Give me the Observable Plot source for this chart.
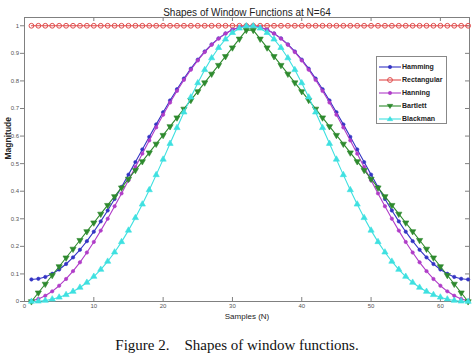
<!DOCTYPE html>
<html>
<head>
<meta charset="utf-8">
<script src="https://cdn.jsdelivr.net/npm/d3@7"></script>
<script src="https://cdn.jsdelivr.net/npm/@observablehq/plot@0.6"></script>
<style>
  html, body { margin: 0; padding: 0; background: #fff; }
  #wrap { position: relative; width: 474px; height: 356px; overflow: hidden; }
  #caption { position: absolute; left: 0; top: 338px; width: 474px; text-align: center;
    font-family: "Liberation Serif", "Times New Roman", serif; font-size: 15px; line-height: 15px; color: #111; white-space: pre; }
  #legend { position: absolute; left: 376px; top: 56px; width: 71px; height: 68px; border: 1px solid #888; background: #fff;
    font-family: "Liberation Sans", Arial, sans-serif; font-size: 7px; font-weight: bold; color: #222; box-sizing: border-box; }
  .row { position: absolute; left: 2px; height: 13px; display: flex; align-items: center; }
  .row svg { display: block; }
  .row span { margin-left: 1px; }
</style>
</head>
<body>
<div id="wrap"></div>
<script>
const title = "Shapes of Window Functions at N=64";
const xLabel = "Samples (N)";
const yLabel = "Magnitude";
const caption = "Figure 2.    Shapes of window functions.";
const xTicks = [0, 10, 20, 30, 40, 50, 60];
const yTicks = [0, 0.1, 0.2, 0.3, 0.4, 0.5, 0.6, 0.7, 0.8, 0.9, 1];
const seriesNames = ["Hamming", "Rectangular", "Hanning", "Bartlett", "Blackman"];
const seriesColors = ["#3434c4", "#e04a4a", "#b03cc8", "#2e8a2e", "#3ee0e0"];

const samples = [1,2,3,4,5,6,7,8,9,10,11,12,13,14,15,16,17,18,19,20,21,22,23,24,25,26,27,28,29,30,31,32,
  33,34,35,36,37,38,39,40,41,42,43,44,45,46,47,48,49,50,51,52,53,54,55,56,57,58,59,60,61,62,63,64];

const hamming = [0.0800,0.0823,0.0891,0.1004,0.1161,0.1360,0.1599,0.1876,0.2188,0.2532,0.2905,0.3301,0.3719,0.4154,0.4601,0.5056,
  0.5515,0.5972,0.6424,0.6865,0.7292,0.7700,0.8085,0.8444,0.8772,0.9067,0.9325,0.9544,0.9723,0.9858,0.9949,0.9994,
  0.9994,0.9949,0.9858,0.9723,0.9544,0.9325,0.9067,0.8772,0.8444,0.8085,0.7700,0.7292,0.6865,0.6424,0.5972,0.5515,
  0.5056,0.4601,0.4154,0.3719,0.3301,0.2905,0.2532,0.2188,0.1876,0.1599,0.1360,0.1161,0.1004,0.0891,0.0823,0.0800];

const rectangular = [1,1,1,1,1,1,1,1,1,1,1,1,1,1,1,1,1,1,1,1,1,1,1,1,1,1,1,1,1,1,1,1,
  1,1,1,1,1,1,1,1,1,1,1,1,1,1,1,1,1,1,1,1,1,1,1,1,1,1,1,1,1,1,1,1];

const hanning = [0.0023,0.0093,0.0209,0.0369,0.0573,0.0817,0.1101,0.1421,0.1776,0.2160,0.2571,0.3003,0.3455,0.3921,0.4397,0.4879,
  0.5362,0.5842,0.6314,0.6773,0.7216,0.7638,0.8036,0.8406,0.8743,0.9045,0.9310,0.9535,0.9717,0.9855,0.9948,0.9994,
  0.9994,0.9948,0.9855,0.9717,0.9535,0.9310,0.9045,0.8743,0.8406,0.8036,0.7638,0.7216,0.6773,0.6314,0.5842,0.5362,
  0.4879,0.4397,0.3921,0.3455,0.3003,0.2571,0.2160,0.1776,0.1421,0.1101,0.0817,0.0573,0.0369,0.0209,0.0093,0.0023];

const bartlett = [0.0000,0.0317,0.0635,0.0952,0.1270,0.1587,0.1905,0.2222,0.2540,0.2857,0.3175,0.3492,0.3810,0.4127,0.4444,0.4762,
  0.5079,0.5397,0.5714,0.6032,0.6349,0.6667,0.6984,0.7302,0.7619,0.7937,0.8254,0.8571,0.8889,0.9206,0.9524,0.9841,
  0.9841,0.9524,0.9206,0.8889,0.8571,0.8254,0.7937,0.7619,0.7302,0.6984,0.6667,0.6349,0.6032,0.5714,0.5397,0.5079,
  0.4762,0.4444,0.4127,0.3810,0.3492,0.3175,0.2857,0.2540,0.2222,0.1905,0.1587,0.1270,0.0952,0.0635,0.0317,0.0000];

const blackman = [0.0000,0.0009,0.0036,0.0083,0.0151,0.0243,0.0361,0.0509,0.0689,0.0905,0.1159,0.1452,0.1787,0.2163,0.2580,0.3035,
  0.3526,0.4046,0.4592,0.5155,0.5727,0.6300,0.6864,0.7409,0.7925,0.8402,0.8831,0.9204,0.9511,0.9748,0.9909,0.9990,
  0.9990,0.9909,0.9748,0.9511,0.9204,0.8831,0.8402,0.7925,0.7409,0.6864,0.6300,0.5727,0.5155,0.4592,0.4046,0.3526,
  0.3035,0.2580,0.2163,0.1787,0.1452,0.1159,0.0905,0.0689,0.0509,0.0361,0.0243,0.0151,0.0083,0.0036,0.0009,0.0000];

const seriesValues = [hamming, rectangular, hanning, bartlett, blackman];
const markerStyle = [
  {symbol: "circle", r: 1.7, fill: true, rotate: 0},
  {symbol: "circle", r: 2.4, fill: false, rotate: 0},
  {symbol: "circle", r: 1.7, fill: true, rotate: 0},
  {symbol: "triangle", r: 2.3, fill: true, rotate: 180},
  {symbol: "triangle", r: 2.3, fill: true, rotate: 0}
];

const W = 474, H = 325;
const mL = 24, mR = 5, mT = 17, mB = 24;
const innerW = W - mL - mR, innerH = H - mT - mB;
const font = "Liberation Sans, Arial, sans-serif";

const marks = [];
seriesValues.forEach((vals, i) => {
  const color = seriesColors[i];
  const ms = markerStyle[i];
  marks.push(Plot.line(vals, {x: (d, j) => samples[j], y: d => d, stroke: color, strokeWidth: 1.1}));
  marks.push(Plot.dot(vals, {x: (d, j) => samples[j], y: d => d, symbol: ms.symbol, r: ms.r, rotate: ms.rotate,
    fill: ms.fill ? color : "none", stroke: color, strokeWidth: ms.fill ? 0.6 : 1}));
});

const chart = Plot.plot({
  width: W, height: H,
  marginLeft: mL, marginRight: mR, marginTop: mT, marginBottom: mB,
  style: {fontFamily: font, background: "#fff", overflow: "visible"},
  x: {domain: [0, 64.2]},
  y: {domain: [0, 1.03]},
  marks: [
    Plot.frame({stroke: "#808080", strokeWidth: 1}),
    // inward ticks: bottom, top, right
    Plot.ruleX(xTicks, {x: d => d, insetTop: innerH - 4, stroke: "#808080"}),
    Plot.ruleX(xTicks, {x: d => d, insetBottom: innerH - 4, stroke: "#808080"}),
    Plot.ruleY(yTicks, {y: d => d, insetLeft: innerW - 4, stroke: "#808080"}),
    Plot.axisX({ticks: xTicks, tickSize: 0, tickPadding: 2, fontSize: 6, fill: "#555", label: null, tickFormat: d => String(d)}),
    Plot.axisY({ticks: yTicks, tickSize: 4, tickPadding: 1.5, fontSize: 6, fill: "#555", stroke: "#808080", label: null, tickFormat: d => String(d)}),
    ...marks,
    Plot.text([title], {frameAnchor: "top", dy: -9, fontSize: 10, fill: "#222", fontFamily: font}),
    Plot.text([xLabel], {frameAnchor: "bottom", dy: 17, fontSize: 8, fill: "#222", fontFamily: font}),
    Plot.text([yLabel], {frameAnchor: "left", dx: -16, rotate: -90, fontSize: 8.5, fontWeight: "bold", fill: "#222", fontFamily: font})
  ]
});

const wrap = document.getElementById("wrap");
wrap.appendChild(chart);

// legend
const legend = document.createElement("div");
legend.id = "legend";
seriesNames.forEach((name, i) => {
  const row = document.createElement("div");
  row.className = "row";
  row.style.top = (3 + i * 13) + "px";
  const ms = markerStyle[i];
  const c = seriesColors[i];
  let marker;
  if (ms.symbol === "circle") {
    marker = `<circle cx="11" cy="5" r="${ms.r}" fill="${ms.fill ? c : 'none'}" stroke="${c}" stroke-width="${ms.fill ? 0.6 : 1}"/>`;
  } else {
    const s = ms.r * 1.2;
    const pts = ms.rotate === 180
      ? `${11 - s},${5 - s * 0.6} ${11 + s},${5 - s * 0.6} 11,${5 + s * 0.9}`
      : `${11 - s},${5 + s * 0.6} ${11 + s},${5 + s * 0.6} 11,${5 - s * 0.9}`;
    marker = `<polygon points="${pts}" fill="${c}" stroke="${c}" stroke-width="0.6"/>`;
  }
  row.innerHTML = `<svg width="22" height="10"><line x1="0" y1="5" x2="22" y2="5" stroke="${c}" stroke-width="1.1"/>${marker}</svg><span>${name}</span>`;
  legend.appendChild(row);
});
wrap.appendChild(legend);

const cap = document.createElement("div");
cap.id = "caption";
cap.textContent = caption;
wrap.appendChild(cap);
</script>
</body>
</html>
